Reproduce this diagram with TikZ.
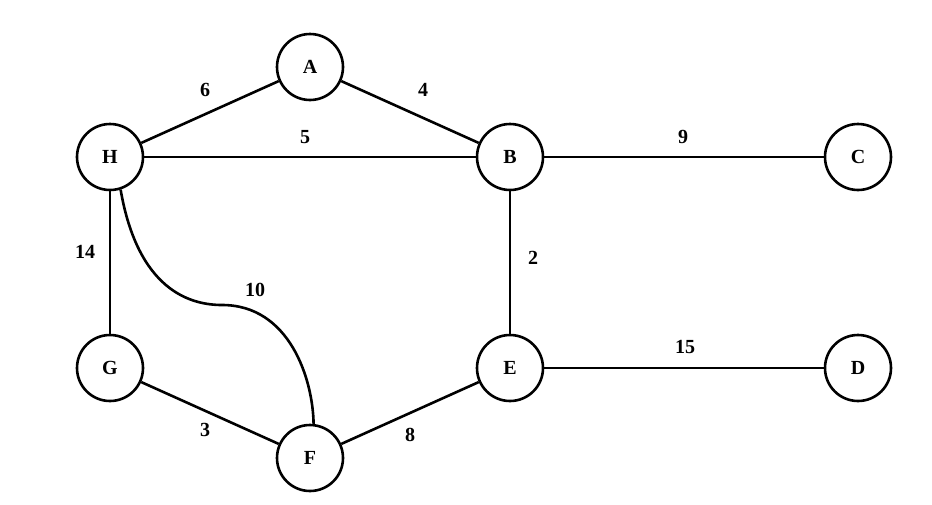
\documentclass[tikz,border=0pt]{standalone}
\usepackage{fontspec}
\setmainfont{Liberation Serif}
\begin{document}
\begin{tikzpicture}[x=1pt,y=-1pt,
  vtx/.style={circle,draw,line width=2.6pt,minimum size=66pt,inner sep=0pt,font=\bfseries\fontsize{20}{22}\selectfont,fill=white},
  edge/.style={line width=2.6pt},
  wt/.style={font=\bfseries\fontsize{20}{22}\selectfont}]
\useasboundingbox (0,0) rectangle (932,504);
\node[vtx] (A) at (310,67) {A};
\node[vtx] (H) at (110,157) {H};
\node[vtx] (B) at (510,157) {B};
\node[vtx] (C) at (858,157) {C};
\node[vtx] (G) at (110,368) {G};
\node[vtx] (E) at (510,368) {E};
\node[vtx] (D) at (858,368) {D};
\node[vtx] (F) at (310,458) {F};
\begin{scope}[on background layer/.style={}]
\draw[edge] (H) -- (A);
\draw[edge] (A) -- (B);
\draw[edge] (H) -- (B);
\draw[edge] (B) -- (C);
\draw[edge] (H) -- (G);
\draw[edge] (B) -- (E);
\draw[edge] (E) -- (D);
\draw[edge] (G) -- (F);
\draw[edge] (F) -- (E);
\coordinate (m) at (222,305);
\draw[edge] (H.-72) .. controls (138,290) and (190,305) .. (m) .. controls (290,305) and (313,380) .. (F.84);
\end{scope}
\node[wt] (w1) at (205,90) {6};
\node[wt] (w2) at (423,90) {4};
\node[wt] (w3) at (305,137) {5};
\node[wt] (w4) at (683,137) {9};
\node[wt] (w5) at (85,252) {14};
\node[wt] (w6) at (255,290) {10};
\node[wt] (w7) at (533,258) {2};
\node[wt] (w8) at (685,347) {15};
\node[wt] (w9) at (205,430) {3};
\node[wt] (w10) at (410,435) {8};
\end{tikzpicture}
\end{document}
